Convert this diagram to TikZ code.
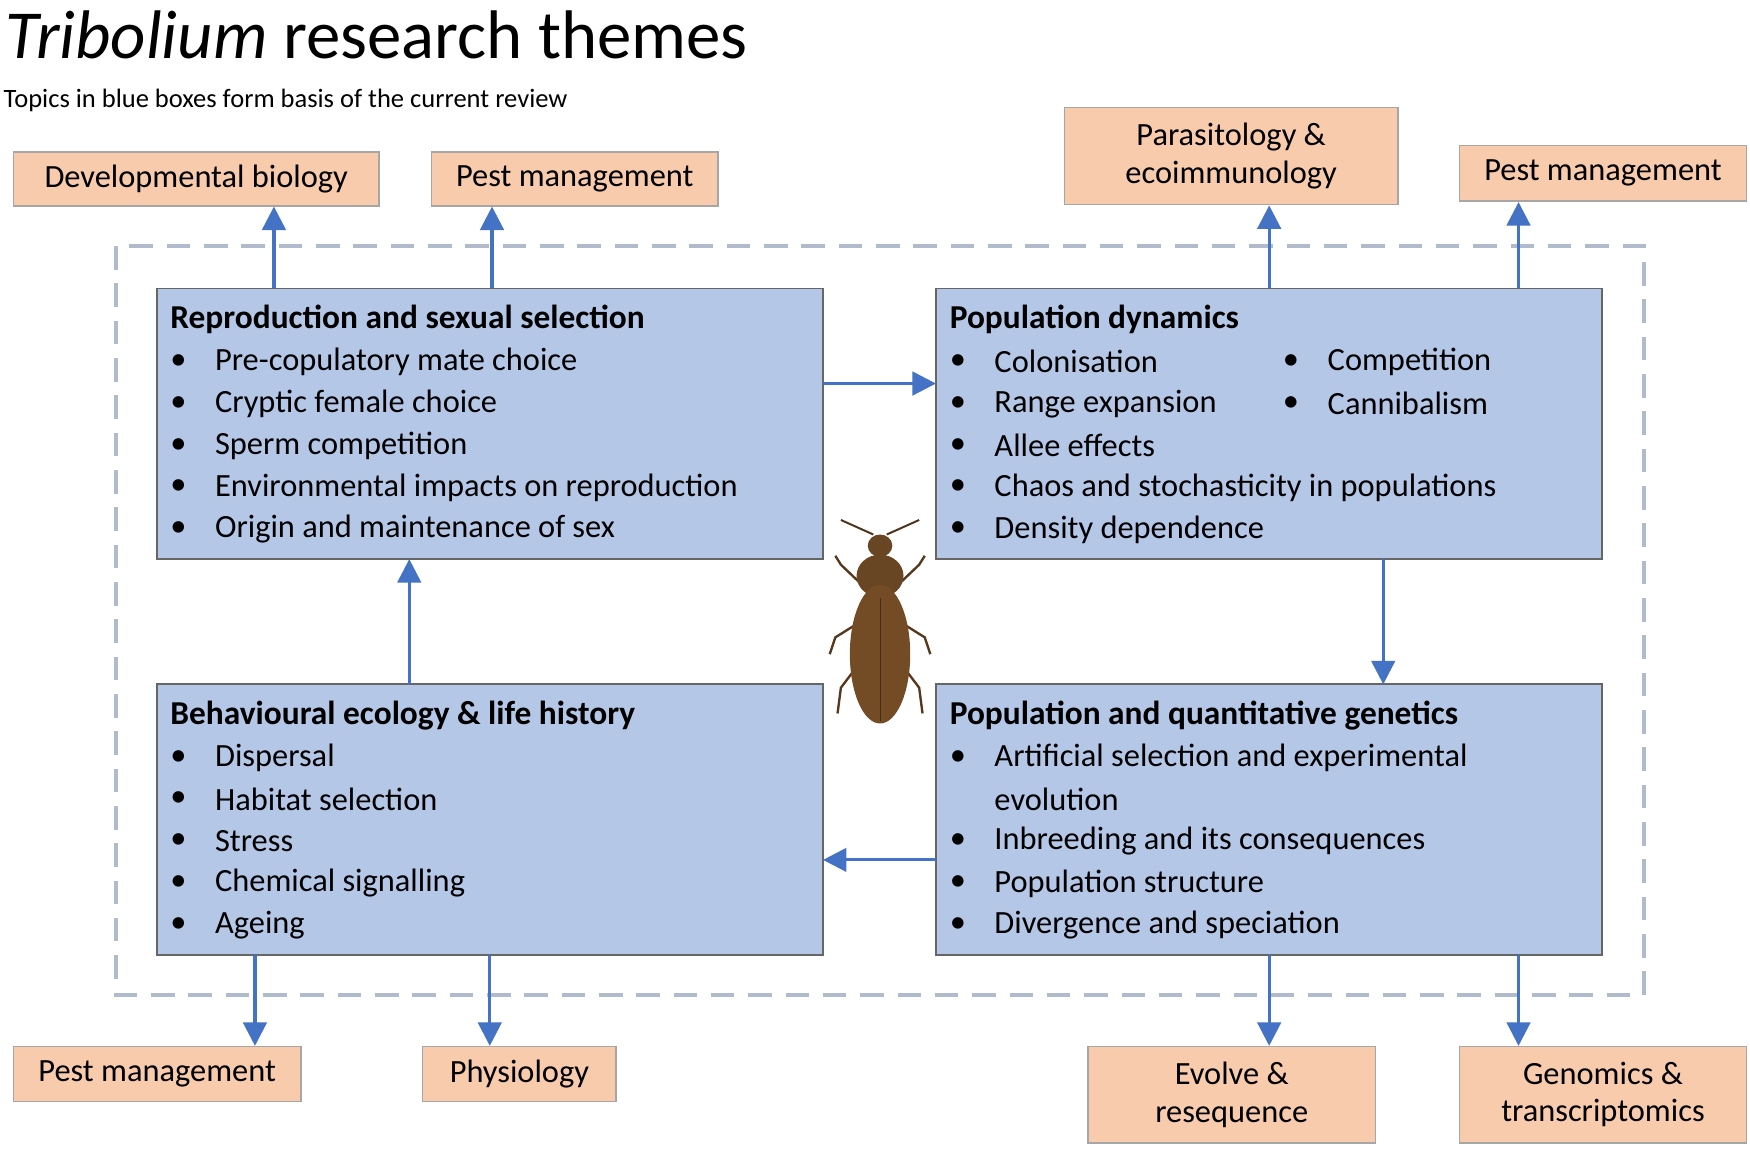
\documentclass[tikz,border=0pt]{standalone}
\usepackage{fontspec}
\setmainfont{Carlito}
\usetikzlibrary{arrows.meta, positioning}

\definecolor{themeblue}{HTML}{B4C7E7}
\definecolor{arrowblue}{HTML}{4472C4}
\definecolor{sideorange}{HTML}{F8CBAD}
\definecolor{framegray}{HTML}{B0BCCB}

\tikzset{
  txt/.style={font=\fontsize{16.5}{20}\selectfont, anchor=west, inner sep=0pt},
  head/.style={txt, font=\fontsize{17}{20}\selectfont\bfseries},
  themebox/.style={draw=gray!80!black, line width=1pt, fill=themeblue},
  sidebox/.style={draw=gray!70, line width=0.8pt, fill=sideorange, align=center,
    font=\fontsize{16.5}{19}\selectfont},
  link/.style={-{Triangle[length=0.42cm,width=0.42cm]}, line width=1.6pt, draw=arrowblue}
}

\begin{document}
\begin{tikzpicture}[x=0.02cm, y=-0.02cm]
  \useasboundingbox (0,0) rectangle (1565,1027);

  % --- titles ---
  \node[anchor=base west, inner sep=0pt, font=\fontsize{35}{40}\selectfont] (title) at (5,52)
    {\textit{Tribolium} research themes};
  \node[anchor=base west, inner sep=0pt, font=\fontsize{13.5}{16}\selectfont] (sub) at (3,96)
    {Topics in blue boxes form basis of the current review};

  % --- dashed frame ---
  \draw[framegray, line width=2pt, dash pattern=on 12pt off 7pt] (104,220) rectangle (1470,890);

  % --- theme boxes ---
  \draw[themebox] (140,258) rectangle (736,500);
  \draw[themebox] (837,258) rectangle (1433,500);
  \draw[themebox] (140,612) rectangle (736,854);
  \draw[themebox] (837,612) rectangle (1433,854);

  % --- box texts ---
  \node[head] (rshead) at (152,286) {Reproduction and sexual selection};
  \foreach \t [count=\i] in {Pre-copulatory mate choice, Cryptic female choice,
      Sperm competition, Environmental impacts on reproduction, Origin and maintenance of sex} {
    \node[txt] (rsdot\i) at (152,286+\i*37.5) {\textbullet};
    \node[txt] (rsitem\i) at (192,286+\i*37.5) {\t};
  }
  \node[head] (pdhead) at (849,286) {Population dynamics};
  \foreach \t [count=\i] in {Colonisation, Range expansion, Allee effects,
      Chaos and stochasticity in populations, Density dependence} {
    \node[txt] (pddot\i) at (849,286+\i*37.5) {\textbullet};
    \node[txt] (pditem\i) at (889,286+\i*37.5) {\t};
  }
  \foreach \t [count=\i] in {Competition, Cannibalism} {
    \node[txt] (pddotb\i) at (1147,286+\i*37.5) {\textbullet};
    \node[txt] (pditemb\i) at (1187,286+\i*37.5) {\t};
  }
  \node[head] (behead) at (152,640) {Behavioural ecology \& life history};
  \foreach \t [count=\i] in {Dispersal, Habitat selection, Stress, Chemical signalling, Ageing} {
    \node[txt] (bedot\i) at (152,640+\i*37.5) {\textbullet};
    \node[txt] (beitem\i) at (192,640+\i*37.5) {\t};
  }
  \node[head] (pqhead) at (849,640) {Population and quantitative genetics};
  \node[txt] (pqdot1) at (849,677.5) {\textbullet};
  \node[txt] (pqitem1) at (889,677.5) {Artificial selection and experimental};
  \node[txt] (pqitem1b) at (889,715) {evolution};
  \foreach \t [count=\i from 2] in {Inbreeding and its consequences, Population structure,
      Divergence and speciation} {
    \node[txt] (pqdot\i) at (849,640+\i*37.5+37.5) {\textbullet};
    \node[txt] (pqitem\i) at (889,640+\i*37.5+37.5) {\t};
  }

  % --- side boxes ---
  \node[sidebox, minimum width=6.54cm, minimum height=0.96cm] (devbio) at (175.5,160) {Developmental biology};
  \node[sidebox, minimum width=5.12cm, minimum height=0.96cm] (pestA) at (514,160) {Pest management};
  \node[sidebox, minimum width=5.96cm, minimum height=1.74cm] (parasit) at (1101,139.5) {Parasitology \&\\ecoimmunology};
  \node[sidebox, minimum width=5.14cm, minimum height=1.0cm] (pestB) at (1433.5,155) {Pest management};
  \node[sidebox, minimum width=5.14cm, minimum height=0.98cm] (pestC) at (140.5,960.5) {Pest management};
  \node[sidebox, minimum width=3.46cm, minimum height=0.98cm] (physio) at (464.5,960.5) {Physiology};
  \node[sidebox, minimum width=5.14cm, minimum height=1.72cm] (evolve) at (1101.5,979) {Evolve \&\\resequence};
  \node[sidebox, minimum width=5.14cm, minimum height=1.72cm] (genom) at (1433.5,979) {Genomics \&\\transcriptomics};

  % --- beetle ---
  \begin{scope}[fill=brown!55!black]
    \draw[brown!40!black, line width=1pt] (781,478) -- (752,465) (793,478) -- (822,465);
    \foreach \s in {-1,1} {
      \draw[brown!45!black, line width=1.2pt] (787+\s*14,525) -- (787+\s*35,505) -- (787+\s*40,497);
      \draw[brown!45!black, line width=1.2pt] (787+\s*16,555) -- (787+\s*40,570) -- (787+\s*45,585);
      \draw[brown!45!black, line width=1.2pt] (787+\s*16,590) -- (787+\s*35,615) -- (787+\s*38,638);
    }
    \fill (787,488) ellipse (11 and 10);
    \fill (787,515) ellipse (21 and 19);
    \fill[brown!60!black] (787,585) ellipse (27 and 62);
    \draw[brown!35!black] (787,535) -- (787,645);
  \end{scope}

  % --- connectors ---
  \foreach \n/\x in {ua/245, ub/440, uc/1135, ud/1358}
    \coordinate (\n) at (\x,258);
  \foreach \n/\x in {da/228, db/438, dc/1135, dd/1358}
    \coordinate (\n) at (\x,854);
  \draw[link] (ua) -- (ua |- devbio.south);
  \draw[link] (ub) -- (ub |- pestA.south);
  \draw[link] (uc) -- (uc |- parasit.south);
  \draw[link] (ud) -- (ud |- pestB.south);
  \draw[link] (736,343) -- (837,343);
  \draw[link] (1237,500) -- (1237,612);
  \draw[link] (837,769) -- (736,769);
  \draw[link] (366,612) -- (366,500);
  \draw[link] (da) -- (da |- pestC.north);
  \draw[link] (db) -- (db |- physio.north);
  \draw[link] (dc) -- (dc |- evolve.north);
  \draw[link] (dd) -- (dd |- genom.north);
\end{tikzpicture}
\end{document}
